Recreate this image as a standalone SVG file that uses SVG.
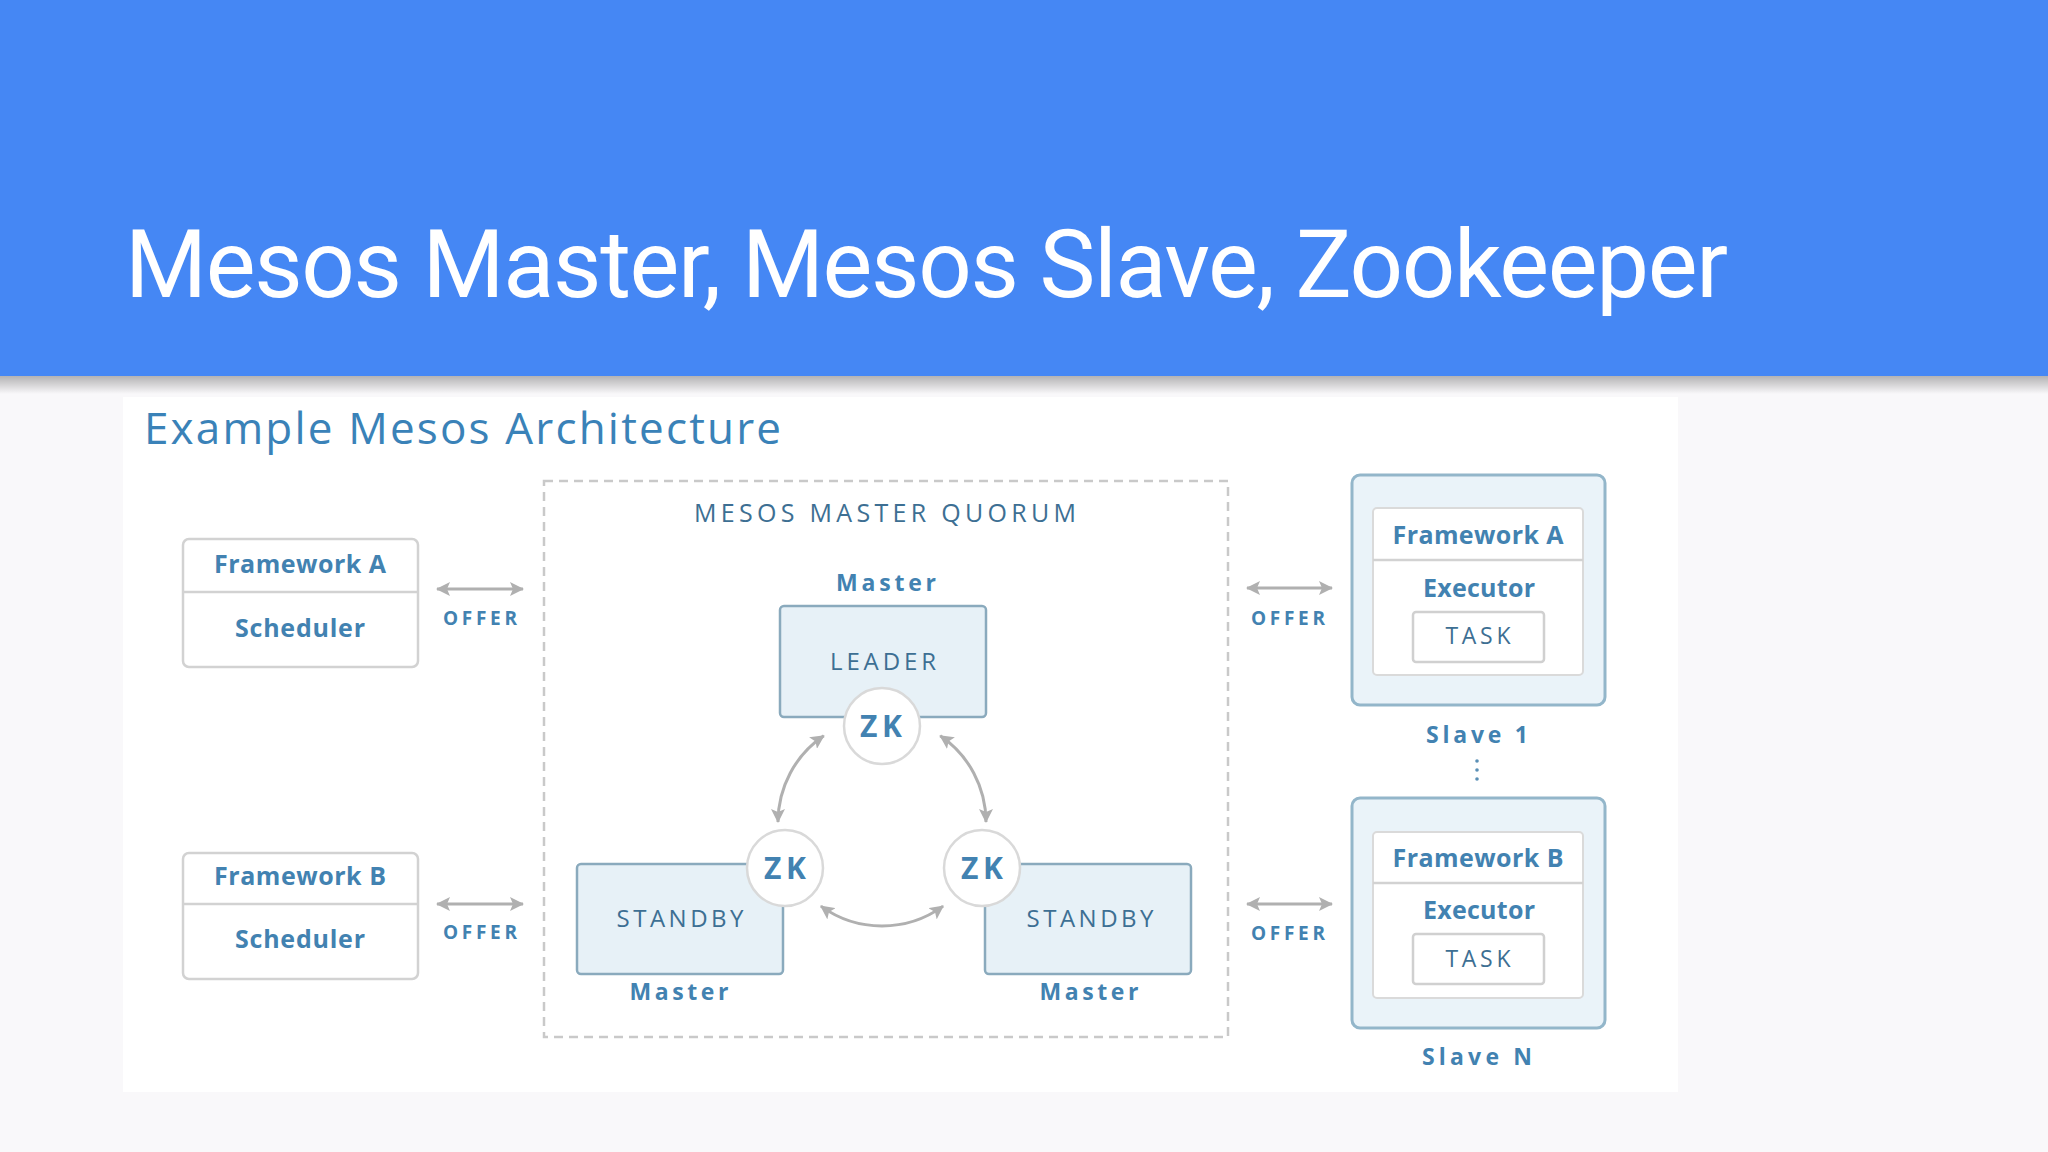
<svg xmlns="http://www.w3.org/2000/svg" width="2048" height="1152" viewBox="0 0 2048 1152">
<defs>
<linearGradient id="shadow" x1="0" y1="0" x2="0" y2="1">
<stop offset="0" stop-color="#000" stop-opacity="0.28"/>
<stop offset="1" stop-color="#000" stop-opacity="0"/>
</linearGradient>
<marker id="ah" viewBox="0 0 14 14" refX="13" refY="7" markerWidth="14" markerHeight="14" markerUnits="userSpaceOnUse" orient="auto-start-reverse">
<path d="M0,0 L14,7 L0,14 L3,7 z" fill="#b0b0b0"/>
</marker>
<style>
.lbl{font-family:"Open Sans","Liberation Sans",sans-serif;font-weight:700;fill:#4282b1;text-anchor:middle}
.reg{font-family:"Open Sans","Liberation Sans",sans-serif;font-weight:400;fill:#3d6f93;text-anchor:middle}
.fw{fill:#fff;stroke:#d2d2d2;stroke-width:2.5}
.div{stroke:#d2d2d2;stroke-width:2.5}
.mbox{fill:#e7f1f7;stroke:#8aaabd;stroke-width:2.5}
.zk{fill:#fff;stroke:#d9d9d9;stroke-width:2.5}
.slave{fill:#eaf3f9;stroke:#93b6ca;stroke-width:3}
.inner{fill:#fff;stroke:#dadada;stroke-width:2}
.task{fill:#fff;stroke:#d0d0d0;stroke-width:2.5}
.conn{fill:none;stroke:#b0b0b0;stroke-width:3;marker-start:url(#ah);marker-end:url(#ah)}
</style>
</defs>
<rect x="0" y="0" width="2048" height="1152" fill="#f9f8fa"/>
<rect x="0" y="376" width="2048" height="18" fill="url(#shadow)"/>
<rect x="0" y="0" width="2048" height="376" fill="#4587f4"/>
<text x="125" y="297" font-family="Roboto,'Liberation Sans',sans-serif" font-size="94" fill="#ffffff" textLength="1603">Mesos Master, Mesos Slave, Zookeeper</text>
<rect x="123" y="397" width="1555" height="695" fill="#ffffff"/>
<text x="144" y="444" font-family="'Open Sans','Liberation Sans',sans-serif" font-size="44" fill="#3a82b8" textLength="637">Example Mesos Architecture</text>

<g id="quorum">
<rect x="544" y="481" width="684" height="556" fill="none" stroke="#c9c9c9" stroke-width="2.5" stroke-dasharray="9 6"/>
<text class="reg" x="885" y="522" font-size="25" textLength="382" fill="#3f7aa6">MESOS MASTER QUORUM</text>
</g>

<g id="frameworkA">
<rect class="fw" x="183" y="539" width="235" height="128" rx="6"/>
<line class="div" x1="183" y1="592" x2="418" y2="592"/>
<text class="lbl" x="300" y="573" font-size="25" textLength="172">Framework A</text>
<text class="lbl" x="300" y="637" font-size="25" textLength="130">Scheduler</text>
</g>

<g id="frameworkB">
<rect class="fw" x="183" y="853" width="235" height="126" rx="6"/>
<line class="div" x1="183" y1="904" x2="418" y2="904"/>
<text class="lbl" x="300" y="885" font-size="25" textLength="172">Framework B</text>
<text class="lbl" x="300" y="948" font-size="25" textLength="130">Scheduler</text>
</g>

<g id="leader">
<text class="lbl" x="886" y="591" font-size="23" textLength="100">Master</text>
<rect class="mbox" x="780" y="606" width="206" height="111" rx="4"/>
<text class="reg" x="883" y="670" font-size="24" textLength="106">LEADER</text>
</g>

<g id="standbyLeft">
<rect class="mbox" x="577" y="864" width="206" height="110" rx="4"/>
<text class="reg" x="680" y="927" font-size="24" textLength="127">STANDBY</text>
<text class="lbl" x="679" y="1000" font-size="23" textLength="99">Master</text>
</g>

<g id="standbyRight">
<rect class="mbox" x="985" y="864" width="206" height="110" rx="4"/>
<text class="reg" x="1090" y="927" font-size="24" textLength="127">STANDBY</text>
<text class="lbl" x="1089" y="1000" font-size="23" textLength="99">Master</text>
</g>

<g id="zkTop">
<circle class="zk" cx="882" cy="726" r="38"/>
<text class="lbl" x="881" y="737" font-size="30" textLength="42" fill="#2f6fa3">ZK</text>
</g>
<g id="zkLeft">
<circle class="zk" cx="785" cy="868" r="38"/>
<text class="lbl" x="785" y="879" font-size="30" textLength="42" fill="#2f6fa3">ZK</text>
</g>
<g id="zkRight">
<circle class="zk" cx="982" cy="868" r="38"/>
<text class="lbl" x="982" y="879" font-size="30" textLength="42" fill="#2f6fa3">ZK</text>
</g>

<g id="slave1">
<rect class="slave" x="1352" y="475" width="253" height="230" rx="8"/>
<rect class="inner" x="1373" y="508" width="210" height="167" rx="4"/>
<line class="div" x1="1373" y1="560" x2="1583" y2="560"/>
<text class="lbl" x="1478" y="544" font-size="25" textLength="171">Framework A</text>
<text class="lbl" x="1479" y="597" font-size="25" textLength="112">Executor</text>
<rect class="task" x="1413" y="612" width="131" height="50" rx="3"/>
<text class="reg" x="1478" y="644" font-size="23" textLength="65">TASK</text>
<text class="lbl" x="1477" y="743" font-size="23" textLength="102">Slave 1</text>
</g>

<g id="ellipsis" fill="#5a8fb5">
<circle cx="1477" cy="761" r="1.8"/>
<circle cx="1477" cy="770" r="1.8"/>
<circle cx="1477" cy="779" r="1.8"/>
</g>

<g id="slaveN">
<rect class="slave" x="1352" y="798" width="253" height="230" rx="8"/>
<rect class="inner" x="1373" y="832" width="210" height="166" rx="4"/>
<line class="div" x1="1373" y1="883" x2="1583" y2="883"/>
<text class="lbl" x="1478" y="867" font-size="25" textLength="171">Framework B</text>
<text class="lbl" x="1479" y="919" font-size="25" textLength="112">Executor</text>
<rect class="task" x="1413" y="934" width="131" height="50" rx="3"/>
<text class="reg" x="1478" y="967" font-size="23" textLength="65">TASK</text>
<text class="lbl" x="1477" y="1065" font-size="23" textLength="110">Slave N</text>
</g>

<g id="connectors">
<line class="conn" x1="437" y1="589" x2="523" y2="589"/>
<line class="conn" x1="437" y1="904" x2="523" y2="904"/>
<line class="conn" x1="1247" y1="588" x2="1332" y2="588"/>
<line class="conn" x1="1247" y1="904" x2="1332" y2="904"/>
<path class="conn" d="M823.8,735.8 A104,104 0 0 0 778,822"/>
<path class="conn" d="M820.9,906.1 A104,104 0 0 0 943.1,906.1"/>
<path class="conn" d="M940.2,735.8 A104,104 0 0 1 986,822"/>
<g class="lbl" font-size="19">
<text x="480" y="625" textLength="74">OFFER</text>
<text x="480" y="939" textLength="74">OFFER</text>
<text x="1288" y="625" textLength="74">OFFER</text>
<text x="1288" y="940" textLength="74">OFFER</text>
</g>
</g>
</svg>
